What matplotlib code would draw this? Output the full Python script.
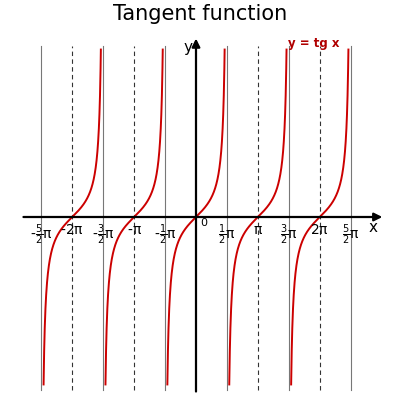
import numpy as np
import matplotlib
matplotlib.use("Agg")
import matplotlib.pyplot as plt

k_values = [-5, -4, -3, -2, -1, 0, 1, 2, 3, 4, 5]  # multiples of pi/2
tick_labels = [r"-$\frac{5}{2}\mathrm{\pi}$", r"-2$\mathrm{\pi}$", r"-$\frac{3}{2}\mathrm{\pi}$", r"-$\mathrm{\pi}$",
               r"-$\frac{1}{2}\mathrm{\pi}$", "",
               r"$\frac{1}{2}\mathrm{\pi}$", r"$\mathrm{\pi}$", r"$\frac{3}{2}\mathrm{\pi}$", r"2$\mathrm{\pi}$",
               r"$\frac{5}{2}\mathrm{\pi}$"]
branch_centers = [-2, -1, 0, 1, 2]  # multiples of pi
y_clip = 8.5

plt.rcParams["mathtext.fontset"] = "dejavusans"
fig = plt.figure(figsize=(4, 4), dpi=100)
ax = fig.add_axes([0, 0, 1, 1])
ax.set_xlim(-196/19.7, 204/19.7)
ax.set_ylim(-183/19.7, 217/19.7)
ax.axis("off")

for k in k_values:
    x = k*np.pi/2
    if k % 2:
        ax.plot([x, x], [-8.8, 8.7], color="#777777", lw=0.8)
    elif k != 0:
        ax.plot([x, x], [-8.8, 8.7], color="#333333", lw=0.8, ls=(0, (4, 3)))

ax.annotate("", xy=(9.6, 0), xytext=(-8.9, 0),
            arrowprops=dict(arrowstyle="-|>", color="black", lw=1.6, mutation_scale=12))
ax.annotate("", xy=(0, 9.2), xytext=(0, -9.0),
            arrowprops=dict(arrowstyle="-|>", color="black", lw=1.6, mutation_scale=12))
ax.text(9.0, -0.15, "x", fontsize=11, va="top", ha="center")
ax.text(-0.2, 8.6, "y", fontsize=11, va="center", ha="right")
ax.text(0.2, -0.05, "0", fontsize=8, va="top", ha="left")

for k, lab in zip(k_values, tick_labels):
    if lab:
        ax.text(k*np.pi/2, -0.3, lab, fontsize=10, ha="center", va="top")

for c in branch_centers:
    lim = np.arctan(y_clip)
    t = np.linspace(-lim, lim, 400)
    ax.plot(c*np.pi + t, np.tan(t), color="#cc0000", lw=1.4)

fig.text(0.5, 0.965, "Tangent function", fontsize=15, ha="center", va="center")
fig.text(0.72, 0.892, "y = tg x", fontsize=8.5, color="#b00000", fontweight="bold", ha="left", va="center")
fig.savefig("out.png")
